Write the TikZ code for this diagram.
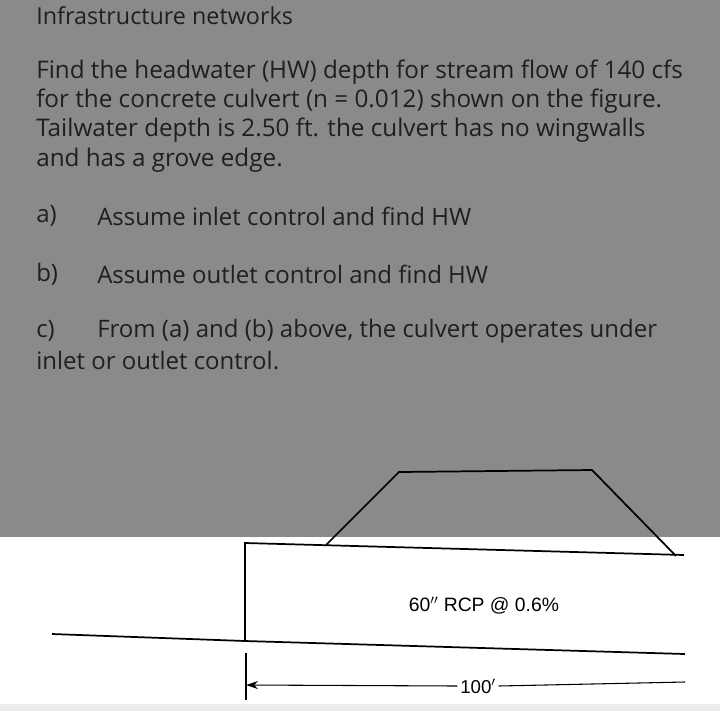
\documentclass[tikz,border=0pt]{standalone}
\usepackage{fontspec}
\usetikzlibrary{arrows.meta}
\setmainfont{Open Sans}
\newfontfamily\listfont{Open Sans}
\newfontfamily\figfont{Liberation Sans}
\begin{document}
\begin{tikzpicture}[x=0.75pt,y=-0.75pt,
  txt/.style={anchor=west,inner sep=0pt,text=black!88},
  ln/.style={line width=1.3pt,black}]
\fill[white] (0,0) rectangle (720,711);
\fill[black!46] (0,0) rectangle (720,537);
\fill[black!8] (0,704) rectangle (720,711);
\node[txt,font=\fontsize{17.5}{18}\selectfont] (title) at (36,16) {Infrastructure networks};
\node[txt,font=\fontsize{18.2}{21.8}\selectfont,align=left,anchor=north west] (para) at (36,60)
 {Find the headwater (HW) depth for stream flow of 140 cfs\\
  for the concrete culvert (n = 0.012) shown on the figure.\\
  Tailwater depth is 2.50 ft. the culvert has no wingwalls\\
  and has a grove edge.};
\begin{scope}[every node/.style={txt,font=\listfont\fontsize{18}{21.5}\selectfont}]
\node (la) at (36,216) {a)};
\node (ta) at (97,216) {Assume inlet control and find HW};
\node (lb) at (36,274) {b)};
\node (tb) at (97,274) {Assume outlet control and find HW};
\node (lc) at (36,331) {c)};
\node (tc) at (97,331) {From (a) and (b) above, the culvert operates under};
\node (td) at (36,361) {inlet or outlet control.};
\end{scope}
% figure
\coordinate (tl) at (245,543);
\coordinate (tr) at (684,555);
\coordinate (bl) at (245,641);
\coordinate (gl) at (52,634);
\coordinate (gr) at (685,654);
\draw[ln] (bl) -- (tl) -- (tr);
\draw[ln] (gl) -- (bl) -- (gr);
\draw[ln] (326,545) -- (399,472) -- (592,470) -- (676,556);
\node[font=\figfont\fontsize{14.5}{16}\selectfont] (rcp) at (484,606) {60$''$ RCP @ 0.6\%};
\node[font=\figfont\fontsize{14}{16}\selectfont,inner sep=2pt] (dim) at (478,686) {100$'$};
\draw[line width=0.8pt] (246,653) -- (246,700);
\draw[line width=0.8pt,-{Stealth[length=9pt,width=6pt]}] (dim.west) -- (246,685);
\draw[line width=0.8pt] (dim.east) -- (685,682);
\end{tikzpicture}
\end{document}
